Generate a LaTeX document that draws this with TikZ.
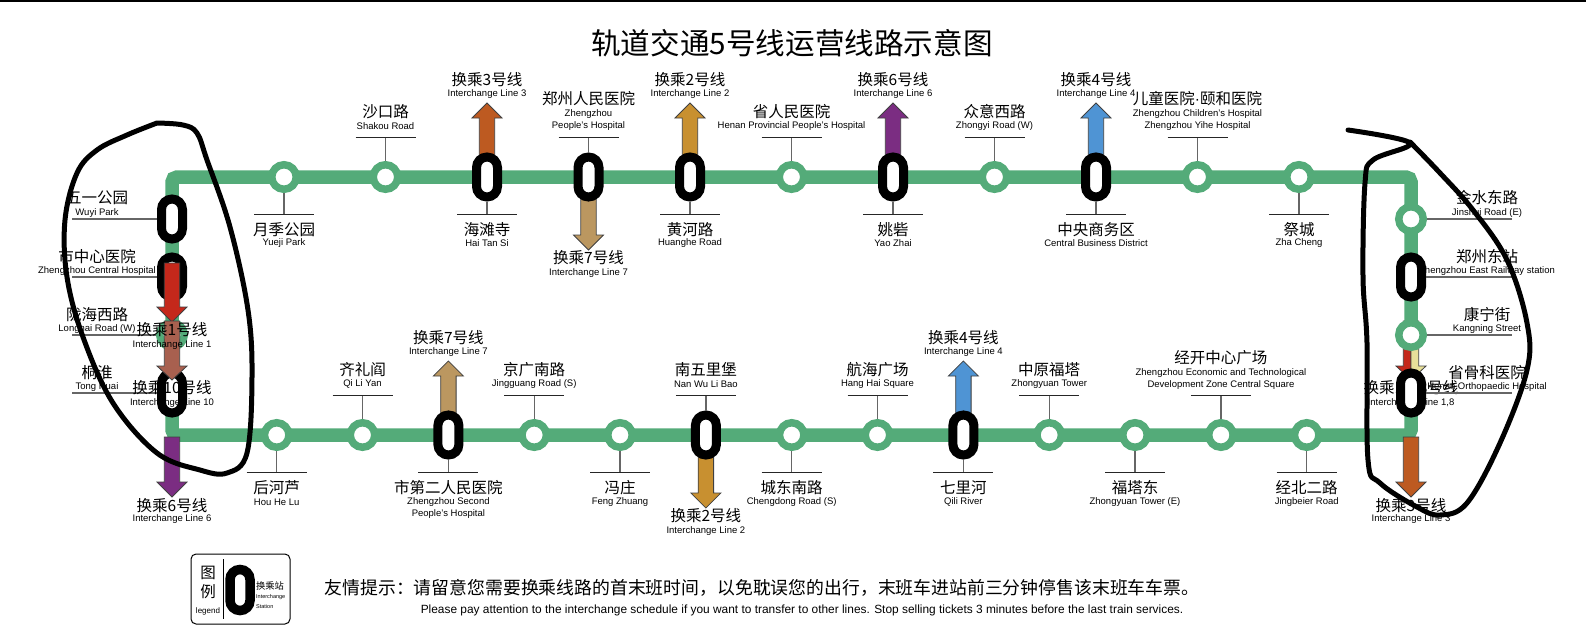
\documentclass[tikz,border=0pt]{standalone}
\usepackage{fontspec}
\setmainfont{Liberation Sans}
\newfontfamily\cjk{Noto Sans CJK SC}
\usepackage{xcolor}
\usepackage{tikz}

\definecolor{routegreen}{HTML}{54AB79}
\definecolor{lineorange}{HTML}{BD5A21}
\definecolor{lineochre}{HTML}{C89030}
\definecolor{linepurple}{HTML}{7B2D82}
\definecolor{lineblue}{HTML}{4F94D4}
\definecolor{linetan}{HTML}{BB9760}
\definecolor{linered}{HTML}{C4281B}
\definecolor{linebrown}{HTML}{A8604F}
\definecolor{lineyellow}{HTML}{E8E09A}

\tikzset{
    route/.style={draw=routegreen, line width=13.5pt, rounded corners=5pt},
    stop/.style={circle, draw=routegreen, fill=white, line width=7.5pt, minimum size=24.5pt, inner sep=0pt},
    xfer/.style={rectangle, draw=black, fill=white, line width=9pt, rounded corners=10.5pt, minimum width=21pt, minimum height=40pt, inner sep=0pt},
    stem/.style={draw=black!60, line width=1.2pt},
    bar/.style={draw=black!85, line width=1pt},
    zh/.style={inner sep=0pt, font=\cjk\fontsize{15.5}{18}\selectfont},
    en/.style={inner sep=0pt, align=center, font=\fontsize{9.5}{12}\selectfont},
    blockarrow/.style={draw=black!75, line width=0.8pt},
    ink/.style={draw=black, line width=5pt, line cap=round, line join=round},
}

% label of a stop: name, x, y of chinese, y of english, chinese, english
\newcommand{\names}[6]{
    \node[zh] (#1zh) at (#2,#3) {#5};
    \node[en] (#1en) at (#2,#4) {#6};
}
% x, y of base, y of head, y of tip, colour
\newcommand{\blockarrow}[5]{
    \filldraw[blockarrow, fill=#5] (#1-7.7,#2) -- (#1-7.7,#3) -- (#1-15,#3) -- (#1,#4)
        -- (#1+15,#3) -- (#1+7.7,#3) -- (#1+7.7,#2) -- cycle;
}
% tee under or over a stop on the rows
\newcommand{\teerow}[2]{
    \coordinate (#1t) at (#1 |- 0,#2);
    \draw[stem] (#1) -- (#1t);
    \draw[bar] ([xshift=-30]#1t) -- ([xshift=30]#1t);
}
% side line of a stop on the columns
\newcommand{\teeside}[2]{
    \coordinate (#1t) at (#2,0 |- #1);
    \draw[stem] (#1) -- (#1t);
}

\begin{document}
\begin{tikzpicture}[x=1pt, y=-1pt]
    \useasboundingbox (0,0) rectangle (1586,630);
    \fill[white] (0,0) rectangle (1586,630);

    \coordinate (edgeL) at (0,1);
    \coordinate (edgeR) at (1586,1);
    \draw[black, line width=2pt] (edgeL) -- (edgeR);

    \node[inner sep=0pt, font=\cjk\fontsize{29.6}{32}\selectfont] (title) at (792,43) {轨道交通5号线运营线路示意图};

    \coordinate (TL) at (172,177);
    \coordinate (TR) at (1411,177);
    \coordinate (BR) at (1411,435);
    \coordinate (BL) at (172,435);
    \draw[route] (BL) -- (TL) -- (TR) -- (BR) -- cycle;

    % arrows behind the stations
    \blockarrow{487}{177}{118}{103}{lineorange}
    \blockarrow{690}{177}{118}{103}{lineochre}
    \blockarrow{893}{177}{118}{103}{linepurple}
    \blockarrow{1096}{177}{118}{103}{lineblue}
    \blockarrow{588.5}{177}{235}{250}{linetan}
    \blockarrow{448.4}{435}{376}{361}{linetan}
    \blockarrow{963.4}{435}{376}{361}{lineblue}
    \blockarrow{705.9}{435}{493}{508}{lineochre}
    \blockarrow{1411}{437}{482}{497}{lineorange}

    \filldraw[blockarrow, fill=linered] (1411,321) -- (1403.3,321) -- (1403.3,366) -- (1396,366) -- (1411,380) -- cycle;
    \filldraw[blockarrow, fill=lineyellow] (1411,321) -- (1418.7,321) -- (1418.7,366) -- (1426,366) -- (1411,380) -- cycle;

    % labels, top row
    \names{yueji}{284}{230}{243}{月季公园}{Yueji Park}
    \names{shakou}{385.5}{112}{126}{沙口路}{Shakou Road}
    \names{haitan}{487}{230}{243}{海滩寺}{Hai Tan Si}
    \names{zzrm}{588.5}{99}{120}{郑州人民医院}{Zhengzhou\\People's Hospital}
    \names{huanghe}{690}{230}{243}{黄河路}{Huanghe Road}
    \names{hnrm}{791.5}{112}{126}{省人民医院}{Henan Provincial People's Hospital}
    \names{yaozhai}{893}{230}{243}{姚砦}{Yao Zhai}
    \names{zhongyi}{994.5}{112}{126}{众意西路}{Zhongyi Road (W)}
    \names{cbd}{1096}{230}{243}{中央商务区}{Central Business District}
    \names{ertong}{1197.5}{99}{120}{儿童医院{\rmfamily ·}颐和医院}{Zhengzhou Children's Hospital\\Zhengzhou Yihe Hospital}
    \names{zhacheng}{1299}{230}{243}{祭城}{Zha Cheng}

    \names{t3}{487}{80}{94}{换乘3号线}{Interchange Line 3}
    \names{t2}{690}{80}{94}{换乘2号线}{Interchange Line 2}
    \names{t6}{893}{80}{94}{换乘6号线}{Interchange Line 6}
    \names{t4}{1096}{80}{94}{换乘4号线}{Interchange Line 4}
    \names{t7}{588.5}{258}{273}{换乘7号线}{Interchange Line 7}

    % labels, bottom row
    \names{houhe}{276.7}{488}{502}{后河芦}{Hou He Lu}
    \names{qili}{362.5}{370}{384}{齐礼阎}{Qi Li Yan}
    \names{second}{448.4}{488}{508}{市第二人民医院}{Zhengzhou Second\\People's Hospital}
    \names{jingguang}{534.2}{370}{384}{京广南路}{Jingguang Road (S)}
    \names{fengzhuang}{620}{488}{502}{冯庄}{Feng Zhuang}
    \names{nanwu}{705.9}{370}{384}{南五里堡}{Nan Wu Li Bao}
    \names{chengdong}{791.7}{488}{502}{城东南路}{Chengdong Road (S)}
    \names{hanghai}{877.5}{370}{384}{航海广场}{Hang Hai Square}
    \names{qilihe}{963.4}{488}{502}{七里河}{Qili River}
    \names{futa}{1049.2}{370}{384}{中原福塔}{Zhongyuan Tower}
    \names{futadong}{1135}{488}{502}{福塔东}{Zhongyuan Tower (E)}
    \names{jingkai}{1220.9}{358}{379}{经开中心广场}{Zhengzhou Economic and Technological\\Development Zone Central Square}
    \names{jingbei}{1306.7}{488}{502}{经北二路}{Jingbeier Road}

    \names{b7}{448.4}{338}{352}{换乘7号线}{Interchange Line 7}
    \names{b4}{963.4}{338}{352}{换乘4号线}{Interchange Line 4}
    \names{b2}{705.9}{516}{531}{换乘2号线}{Interchange Line 2}

    % labels, columns
    \names{wuyi}{97}{198}{213}{五一公园}{Wuyi Park}
    \names{central}{97}{257}{271}{市中心医院}{Zhengzhou Central Hospital}
    \names{longhai}{97}{315}{329}{陇海西路}{Longhai Road (W)}
    \names{tonghuai}{97}{373}{387}{桐淮}{Tong Huai}
    \names{jinshui}{1487}{198}{213}{金水东路}{Jinshui Road (E)}
    \names{zzeast}{1487}{257}{271}{郑州东站}{Zhengzhou East Railway station}
    \names{kangning}{1487}{315}{329}{康宁街}{Kangning Street}
    \names{guke}{1487}{373}{387}{省骨科医院}{Henan Orthopaedic Hospital}
    \names{r18}{1411}{388}{403}{换乘1，8号线}{Interchange Line 1,8}
    \names{r3}{1411}{506}{519}{换乘3号线}{Interchange Line 3}
    \names{l6}{172}{506}{519}{换乘6号线}{Interchange Line 6}

    % top row
    \node[stop] (yueji) at (284,177) {};
    \node[stop] (shakou) at (385.5,177) {};
    \node[xfer] (haitan) at (487,177) {};
    \node[xfer] (zzrm) at (588.5,177) {};
    \node[xfer] (huanghe) at (690,177) {};
    \node[stop] (hnrm) at (791.5,177) {};
    \node[xfer] (yaozhai) at (893,177) {};
    \node[stop] (zhongyi) at (994.5,177) {};
    \node[xfer] (cbd) at (1096,177) {};
    \node[stop] (ertong) at (1197.5,177) {};
    \node[stop] (zhacheng) at (1299,177) {};

    % bottom row
    \node[stop] (houhe) at (276.7,435) {};
    \node[stop] (qili) at (362.5,435) {};
    \node[xfer] (second) at (448.4,435) {};
    \node[stop] (jingguang) at (534.2,435) {};
    \node[stop] (fengzhuang) at (620,435) {};
    \node[xfer] (nanwu) at (705.9,435) {};
    \node[stop] (chengdong) at (791.7,435) {};
    \node[stop] (hanghai) at (877.5,435) {};
    \node[xfer] (qilihe) at (963.4,435) {};
    \node[stop] (futa) at (1049.2,435) {};
    \node[stop] (futadong) at (1135,435) {};
    \node[stop] (jingkai) at (1220.9,435) {};
    \node[stop] (jingbei) at (1306.7,435) {};

    % columns
    \node[xfer] (wuyi) at (172,219) {};
    \node[xfer] (central) at (172,277) {};
    \node[stop] (longhai) at (172,335) {};
    \node[xfer] (tonghuai) at (172,393) {};
    \node[stop] (jinshui) at (1411,219) {};
    \node[xfer] (zzeast) at (1411,277) {};
    \node[stop] (kangning) at (1411,335) {};
    \node[xfer] (guke) at (1411,393) {};

    \teerow{yueji}{214}
    \teerow{shakou}{137}
    \teerow{haitan}{214}
    \teerow{zzrm}{137}
    \teerow{huanghe}{214}
    \teerow{hnrm}{137}
    \teerow{yaozhai}{214}
    \teerow{zhongyi}{137}
    \teerow{cbd}{214}
    \teerow{ertong}{137}
    \teerow{zhacheng}{214}

    \teerow{houhe}{472}
    \teerow{qili}{395}
    \teerow{second}{472}
    \teerow{jingguang}{395}
    \teerow{fengzhuang}{472}
    \teerow{nanwu}{395}
    \teerow{chengdong}{472}
    \teerow{hanghai}{395}
    \teerow{qilihe}{472}
    \teerow{futa}{395}
    \teerow{futadong}{472}
    \teerow{jingkai}{395}
    \teerow{jingbei}{472}

    \teeside{wuyi}{72}
    \teeside{central}{72}
    \teeside{longhai}{72}
    \teeside{tonghuai}{72}
    \teeside{jinshui}{1512}
    \teeside{zzeast}{1512}
    \teeside{kangning}{1512}
    \teeside{guke}{1512}

    % arrows over the left column
    \blockarrow{172}{263}{307}{322}{linered}
    \blockarrow{172}{321}{366}{380}{linebrown}
    \blockarrow{172}{437}{482}{497}{linepurple}
    \names{l1}{172}{330}{345}{换乘1号线}{Interchange Line 1}
    \names{l10}{172}{388}{403}{换乘10号线}{Interchange Line 10}

    % legend
    \draw[black, line width=1pt, rounded corners=5pt] (191,554) rectangle (290,624);
    \coordinate (divT) at (223,559);
    \coordinate (divB) at (223,619);
    \draw[black, line width=1pt] (divT) -- (divB);
    \node[xfer, line width=9.5pt, minimum height=41pt, minimum width=20pt, rounded corners=10pt] (legendx) at (240,590) {};
    \node[zh] (tu) at (208,573) {图};
    \node[zh] (li) at (208,592) {例};
    \node[en, font=\fontsize{8}{9}\selectfont] (legend) at (208,611) {legend};
    \node[zh, font=\cjk\fontsize{9.3}{10}\selectfont] (hcz) at (270,586) {换乘站};
    \node[en, font=\fontsize{5.5}{6}\selectfont, anchor=west] (hcz1) at (256,597) {Interchange};
    \node[en, font=\fontsize{5.5}{6}\selectfont, anchor=west] (hcz2) at (256,607) {Station};

    % notice
    \node[zh, font=\cjk\fontsize{17.85}{20}\selectfont] (notezh) at (762,588) {友情提示：请留意您需要换乘线路的首末班时间，以免耽误您的出行，末班车进站前三分钟停售该末班车车票。};
    \node[en, font=\fontsize{11.9}{14}\selectfont] (noteen) at (802,610) {Please pay attention to the interchange schedule if you want to transfer to other lines. Stop selling tickets 3 minutes before the last train services.};

    % hand drawn loops
    \draw[ink] plot[smooth, tension=0.6] coordinates {(157,123) (127,135) (97,150) (77,173) (65,220) (67,277) (83,337) (113,403) (157,453) (200,470) (227,473) (247,453) (252,377) (248,310) (230,227) (207,160) (197,133) (183,125) (157,123)};
    \draw[ink] plot[smooth, tension=0.6] coordinates {(1348,130) (1410,143) (1373,160) (1365,183) (1363,277) (1367,343) (1368,460) (1380,483) (1417,507) (1440,515) (1467,503) (1500,443) (1527,370) (1527,323) (1507,260) (1473,210) (1440,173) (1410,142)};

\end{tikzpicture}
\end{document}
